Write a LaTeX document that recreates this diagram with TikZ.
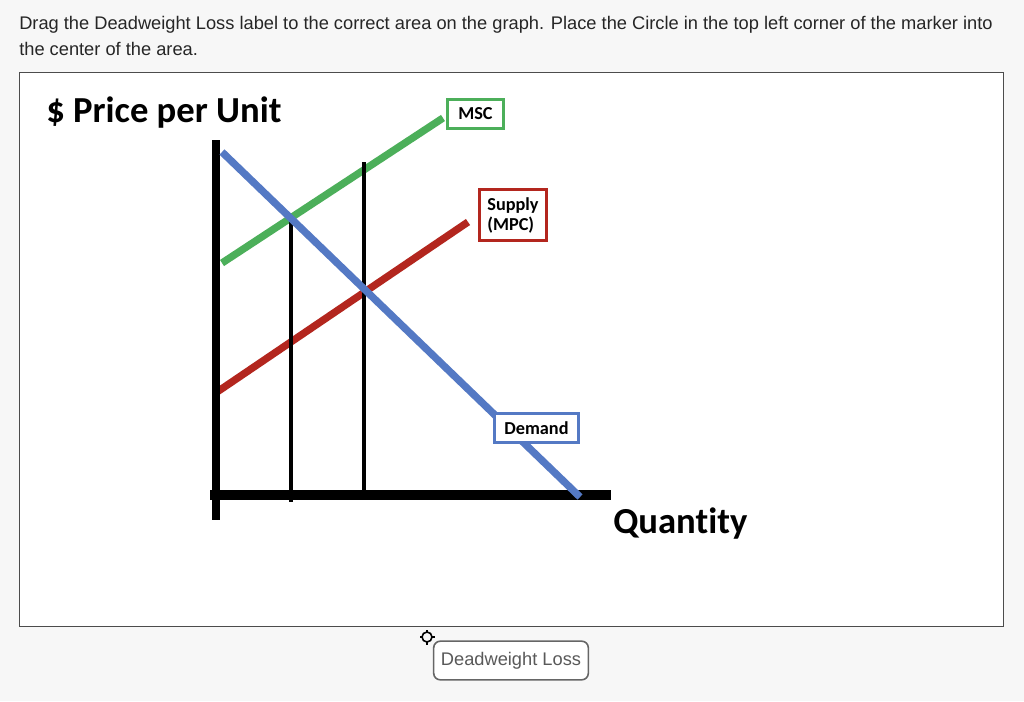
\documentclass[tikz,border=0pt]{standalone}
\usepackage{fontspec}
\setmainfont{Liberation Sans}
\newfontfamily\calfnt{Carlito}
\definecolor{bg}{HTML}{F7F7F7}
\definecolor{gr}{HTML}{4CAF5A}
\definecolor{rd}{HTML}{B3261E}
\definecolor{bl}{HTML}{5479C4}
\begin{document}
\begin{tikzpicture}[x=0.75pt,y=-0.75pt,
 lab/.style={draw,line width=2.2pt,fill=white,font=\calfnt\bfseries\fontsize{13.7}{15}\selectfont,inner sep=2pt,align=left},
 ln/.style={line width=5.5pt}]
\fill[bg] (0,0) rectangle (1024,701);
\useasboundingbox (0,0) rectangle (1024,701);
\node[anchor=base west,font=\fontsize{13.7}{15}\selectfont,text=black!85,inner sep=0] (t1) at (19,29) {Drag the Deadweight Loss label to the correct area on the graph. Place the Circle in the top left corner of the marker into};
\node[anchor=base west,font=\fontsize{13.7}{15}\selectfont,text=black!85,inner sep=0] (t2) at (19,55) {the center of the area.};
\draw[fill=white,draw=black!70,line width=0.7pt] (19,72) rectangle (1003,626);
\node[anchor=base west,font=\calfnt\bfseries\fontsize{27.5}{30}\selectfont,inner sep=0] (py) at (46,122) {\$ Price per Unit};
\node[anchor=base west,font=\calfnt\bfseries\fontsize{27.5}{30}\selectfont,inner sep=0] (qx) at (613,533) {Quant\kern0pt ity};
\coordinate (g1) at (222,263); \coordinate (g2) at (443,118);
\coordinate (r1) at (217,392); \coordinate (r2) at (468,222);
\coordinate (b1) at (222,152); \coordinate (b2) at (580,497);
\draw[gr,ln] (g1) -- (g2);
\draw[rd,ln] (r1) -- (r2);
\draw[line width=3pt] (291,215) -- (291,502);
\draw[line width=3pt] (364,162) -- (364,495);
\draw[line width=6.5pt] (216,140) -- (216,520);
\draw[line width=7pt] (210,495) -- (611,495);
\draw[bl,ln] (b1) -- (b2);
\node[lab,draw=gr,minimum width=42pt,minimum height=22pt] (msc) at (475.5,114) {MSC};
\node[lab,draw=rd,minimum width=50pt,minimum height=38pt] (sup) at (513,215) {Supply\\(MPC)};
\node[lab,draw=bl,minimum width=63pt,minimum height=22pt] (dem) at (536.5,428) {Demand};
\node[draw=black!60,line width=1.2pt,rounded corners=5pt,fill=white,minimum width=116pt,minimum height=29pt,text=black!65,font=\fontsize{13.7}{15}\selectfont] (dwl) at (511,660.5) {Deadweight Loss};
\draw[line width=1.2pt] (427,637) circle (5);
\foreach \a in {0,90,180,270} \draw[line width=1.2pt] (427,637) ++(\a:4) -- ++(\a:3.5);
\end{tikzpicture}
\end{document}
